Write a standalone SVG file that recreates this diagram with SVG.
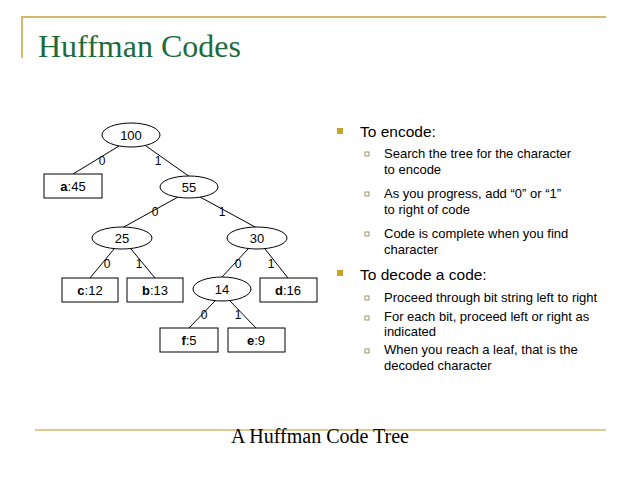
<svg xmlns="http://www.w3.org/2000/svg" width="638" height="479" viewBox="0 0 638 479">
<style>
.n{fill:#fff;stroke:#000;stroke-width:1}
.t{font-family:"Liberation Sans",Arial,sans-serif;font-size:13px;text-anchor:middle}
.e{font-family:"Liberation Sans",Arial,sans-serif;font-size:12px;text-anchor:middle}
.b1{font-family:"Liberation Sans",Arial,sans-serif;font-size:15.5px}
.b2{font-family:"Liberation Sans",Arial,sans-serif;font-size:13px}
.sq{fill:none;stroke:#8a7a3a;stroke-width:0.8}
</style>
<rect width="638" height="479" fill="#fff"/>
<path d="M22 58V17H606" fill="none" stroke="#d4b96a" stroke-width="2"/>
<text x="38" y="57" font-family="Liberation Serif,serif" font-size="32" fill="#1d6b3c">Huffman Codes</text>
<g id="connectors" stroke="#000" stroke-width="1">
<line x1="119" y1="146" x2="73" y2="174"/><line x1="146" y1="146" x2="190" y2="177"/>
<line x1="178" y1="197" x2="122" y2="228"/><line x1="200" y1="197" x2="257" y2="228"/>
<line x1="114" y1="249" x2="90" y2="278"/><line x1="131" y1="249" x2="155" y2="278"/>
<line x1="248" y1="249" x2="222" y2="277"/><line x1="265" y1="249" x2="288" y2="278"/>
<line x1="215" y1="301" x2="189" y2="328"/><line x1="230" y1="301" x2="256" y2="328"/>
</g>
<g class="e"><text x="102" y="165">0</text><text x="158" y="165">1</text>
<text x="155" y="216">0</text><text x="222" y="216">1</text>
<text x="107" y="268">0</text><text x="139" y="268">1</text>
<text x="238" y="268">0</text><text x="271" y="268">1</text>
<text x="204" y="319">0</text><text x="238" y="319">1</text></g>
<g id="n100"><ellipse class="n" cx="131" cy="135" rx="29" ry="12"/><text class="t" x="131" y="140">100</text></g>
<g id="a45"><rect class="n" x="44" y="174" width="58" height="24"/><text class="t" x="73" y="191"><tspan font-weight="bold">a</tspan>:45</text></g>
<g id="n55"><ellipse class="n" cx="189" cy="187" rx="29" ry="11"/><text class="t" x="189" y="192">55</text></g>
<g id="n25"><ellipse class="n" cx="122" cy="238" rx="30" ry="11"/><text class="t" x="122" y="243">25</text></g>
<g id="n30"><ellipse class="n" cx="257" cy="238" rx="30" ry="11"/><text class="t" x="257" y="243">30</text></g>
<g id="c12"><rect class="n" x="62" y="278" width="56" height="24"/><text class="t" x="90" y="295"><tspan font-weight="bold">c</tspan>:12</text></g>
<g id="b13"><rect class="n" x="127" y="278" width="56" height="24"/><text class="t" x="155" y="295"><tspan font-weight="bold">b</tspan>:13</text></g>
<g id="n14"><ellipse class="n" cx="222" cy="289" rx="29" ry="12"/><text class="t" x="222" y="294">14</text></g>
<g id="d16"><rect class="n" x="260" y="278" width="57" height="24"/><text class="t" x="288" y="295"><tspan font-weight="bold">d</tspan>:16</text></g>
<g id="f5"><rect class="n" x="160" y="328" width="58" height="24"/><text class="t" x="189" y="345"><tspan font-weight="bold">f</tspan>:5</text></g>
<g id="e9"><rect class="n" x="228" y="328" width="57" height="24"/><text class="t" x="256" y="345"><tspan font-weight="bold">e</tspan>:9</text></g>
<g id="text">
<rect x="337" y="128" width="6" height="6" fill="#c9a227"/>
<text class="b1" x="360" y="137">To encode:</text>
<rect class="sq" x="365" y="152" width="4" height="4"/>
<text class="b2" x="384" y="158">Search the tree for the character</text>
<text class="b2" x="384" y="174">to encode</text>
<rect class="sq" x="365" y="192" width="4" height="4"/>
<text class="b2" x="384" y="198">As you progress, add “0” or “1”</text>
<text class="b2" x="384" y="214">to right of code</text>
<rect class="sq" x="365" y="232" width="4" height="4"/>
<text class="b2" x="384" y="238">Code is complete when you find</text>
<text class="b2" x="384" y="254">character</text>
<rect x="337" y="270" width="6" height="6" fill="#c9a227"/>
<text class="b1" x="360" y="280">To decode a code:</text>
<rect class="sq" x="365" y="296" width="4" height="4"/>
<text class="b2" x="384" y="302" font-size="12">Proceed through bit string left to right</text>
<rect class="sq" x="365" y="316" width="4" height="4"/>
<text class="b2" x="384" y="321" font-size="12">For each bit, proceed left or right as</text>
<text class="b2" x="384" y="336" font-size="12">indicated</text>
<rect class="sq" x="365" y="349" width="4" height="4"/>
<text class="b2" x="384" y="354" font-size="12">When you reach a leaf, that is the</text>
<text class="b2" x="384" y="370" font-size="12">decoded character</text>
</g>
<line x1="35" y1="430" x2="606" y2="430" stroke="#d4b96a" stroke-width="1.5"/>
<text x="320" y="443" font-family="Liberation Serif,serif" font-size="20" text-anchor="middle">A Huffman Code Tree</text>
</svg>
